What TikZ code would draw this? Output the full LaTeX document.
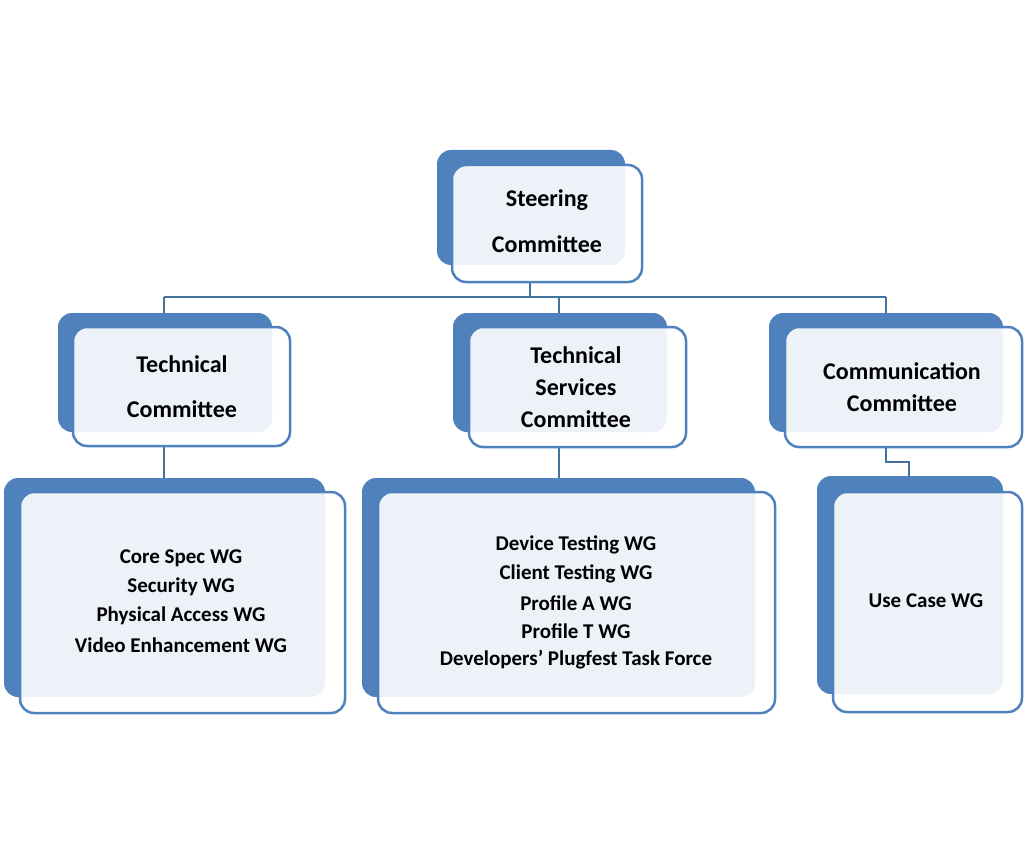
\documentclass[tikz,border=0pt]{standalone}
\usepackage{fontspec}
\setmainfont{Carlito}
\definecolor{dblue}{HTML}{4F81BD}
\definecolor{lblue}{HTML}{41719C}
\begin{document}
\begin{tikzpicture}[x=1pt,y=-1pt,
  back/.style={fill=dblue,rounded corners=14pt},
  front/.style={fill=white,fill opacity=0.9,draw=dblue,draw opacity=1,line width=2.5pt,rounded corners=14pt},
  conn/.style={draw=lblue,line width=2.5pt},
  big/.style={font=\fontsize{24}{24}\selectfont\bfseries,align=center},
  small/.style={font=\fontsize{21}{21}\selectfont\bfseries,align=center}]
\useasboundingbox (0,0) rectangle (1024,861);
% connectors
\draw[conn] (530,282) -- (530,297);
\draw[conn] (164,297) -- (886,297);
\draw[conn] (164,297) -- (164,313);
\draw[conn] (559,297) -- (559,313);
\draw[conn] (886,297) -- (886,313);
\draw[conn] (164,446) -- (164,478);
\draw[conn] (559,447) -- (559,478);
\draw[conn] (886,447) -- (886,462) -- (909,462) -- (909,476);
% boxes
\fill[back] (437,150) rectangle (625,265);
\draw[front] (452,165) rectangle (642,282);
\fill[back] (58,313) rectangle (272,432);
\draw[front] (73,327) rectangle (290,446);
\fill[back] (453,313) rectangle (667,432);
\draw[front] (469,327) rectangle (686,447);
\fill[back] (769,313) rectangle (1003,432);
\draw[front] (785,327) rectangle (1022,447);
\fill[back] (4,478) rectangle (325,697);
\draw[front] (20,492) rectangle (345,713);
\fill[back] (362,478) rectangle (755,697);
\draw[front] (378,492) rectangle (775,713);
\fill[back] (817,476) rectangle (1003,694);
\draw[front] (833,492) rectangle (1022,712);
% texts
\node[big] (s1) at (547,200) {Steering};
\node[big] (s2) at (547,244) {Committee};
\node[big] (t1) at (182,364) {Technical};
\node[big] (t2) at (182,409) {Committee};
\node[big] (ts1) at (576,355) {Technical};
\node[big] (ts2) at (576,387) {Services};
\node[big] (ts3) at (576,419) {Committee};
\node[big] (c1) at (902,371) {Communication};
\node[big] (c2) at (902,403) {Committee};
\node[small] (w1) at (181,558) {Core Spec WG};
\node[small] (w2) at (181,587) {Security WG};
\node[small] (w3) at (181,616) {Physical Access WG};
\node[small] (w4) at (181,645) {Video Enhancement WG};
\node[small] (m1) at (576,545) {Device Testing WG};
\node[small] (m2) at (576,574) {Client Testing WG};
\node[small] (m3) at (576,603) {Profile A WG};
\node[small] (m4) at (576,631) {Profile T WG};
\node[small] (m5) at (576,660) {Developers’ Plugfest Task Force};
\node[small] (u1) at (926,601) {Use Case WG};
\end{tikzpicture}
\end{document}
